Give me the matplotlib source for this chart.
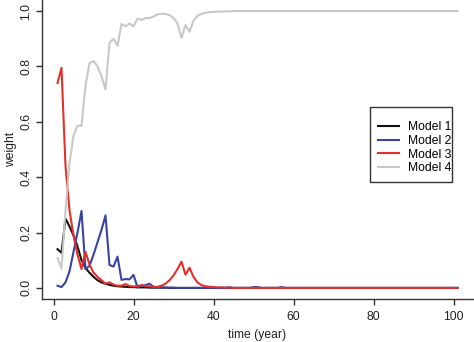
import numpy as np
import matplotlib
matplotlib.use("Agg")
import matplotlib.pyplot as plt
from matplotlib.patches import Rectangle

# model weights over time
time = np.arange(1, 102)

model1 = [0.140, 0.127, 0.250, 0.222, 0.190, 0.150, 0.100, 0.072, 0.055, 0.040,
          0.028, 0.020, 0.015, 0.011, 0.008, 0.006, 0.005, 0.004, 0.003, 0.003,
          0.002, 0.002, 0.002, 0.001, 0.001, 0.001, 0.001, 0.001, 0.000, 0.000,
          0.000, 0.000, 0.000, 0.000, 0.000, 0.000, 0.000, 0.000, 0.000, 0.000,
          0.000, 0.000, 0.000, 0.000, 0.000, 0.000, 0.000, 0.000, 0.000, 0.000,
          0.000, 0.000, 0.000, 0.000, 0.000, 0.000, 0.000, 0.000, 0.000, 0.000,
          0.000, 0.000, 0.000, 0.000, 0.000, 0.000, 0.000, 0.000, 0.000, 0.000,
          0.000, 0.000, 0.000, 0.000, 0.000, 0.000, 0.000, 0.000, 0.000, 0.000,
          0.000, 0.000, 0.000, 0.000, 0.000, 0.000, 0.000, 0.000, 0.000, 0.000,
          0.000, 0.000, 0.000, 0.000, 0.000, 0.000, 0.000, 0.000, 0.000, 0.000,
          0.000]

model2 = [0.008, 0.003, 0.020, 0.060, 0.130, 0.200, 0.278, 0.068, 0.080, 0.120,
          0.165, 0.210, 0.262, 0.083, 0.077, 0.113, 0.029, 0.032, 0.031, 0.047,
          0.003, 0.008, 0.010, 0.015, 0.004, 0.002, 0.002, 0.001, 0.001, 0.001,
          0.000, 0.000, 0.000, 0.000, 0.000, 0.000, 0.000, 0.000, 0.000, 0.000,
          0.000, 0.000, 0.000, 0.002, 0.000, 0.000, 0.000, 0.000, 0.000, 0.003,
          0.003, 0.000, 0.000, 0.000, 0.000, 0.000, 0.003, 0.000, 0.000, 0.000,
          0.000, 0.000, 0.000, 0.000, 0.000, 0.000, 0.000, 0.000, 0.000, 0.000,
          0.000, 0.000, 0.000, 0.000, 0.000, 0.000, 0.000, 0.000, 0.000, 0.000,
          0.000, 0.000, 0.000, 0.000, 0.000, 0.000, 0.000, 0.000, 0.000, 0.000,
          0.000, 0.000, 0.000, 0.000, 0.000, 0.000, 0.000, 0.000, 0.000, 0.000,
          0.000]

model3 = [0.740, 0.795, 0.440, 0.280, 0.190, 0.120, 0.068, 0.130, 0.085, 0.055,
          0.040, 0.028, 0.015, 0.020, 0.012, 0.008, 0.008, 0.014, 0.007, 0.005,
          0.007, 0.010, 0.007, 0.005, 0.004, 0.004, 0.008, 0.015, 0.028, 0.045,
          0.068, 0.095, 0.048, 0.073, 0.040, 0.020, 0.010, 0.006, 0.004, 0.003,
          0.002, 0.002, 0.001, 0.001, 0.000, 0.000, 0.000, 0.000, 0.000, 0.000,
          0.000, 0.000, 0.000, 0.000, 0.000, 0.000, 0.000, 0.000, 0.000, 0.000,
          0.000, 0.000, 0.000, 0.000, 0.000, 0.000, 0.000, 0.000, 0.000, 0.000,
          0.000, 0.000, 0.000, 0.000, 0.000, 0.000, 0.000, 0.000, 0.000, 0.000,
          0.000, 0.000, 0.000, 0.000, 0.000, 0.000, 0.000, 0.000, 0.000, 0.000,
          0.000, 0.000, 0.000, 0.000, 0.000, 0.000, 0.000, 0.000, 0.000, 0.000,
          0.000]

model4 = [0.108, 0.070, 0.280, 0.450, 0.550, 0.586, 0.586, 0.730, 0.812, 0.820,
          0.800, 0.765, 0.717, 0.886, 0.900, 0.875, 0.953, 0.945, 0.955, 0.945,
          0.973, 0.968, 0.975, 0.975, 0.980, 0.988, 0.990, 0.990, 0.985, 0.975,
          0.955, 0.903, 0.950, 0.925, 0.965, 0.983, 0.990, 0.994, 0.996, 0.997,
          0.998, 0.998, 0.999, 0.999, 1.000, 1.000, 1.000, 1.000, 1.000, 1.000,
          1.000, 1.000, 1.000, 1.000, 1.000, 1.000, 1.000, 1.000, 1.000, 1.000,
          1.000, 1.000, 1.000, 1.000, 1.000, 1.000, 1.000, 1.000, 1.000, 1.000,
          1.000, 1.000, 1.000, 1.000, 1.000, 1.000, 1.000, 1.000, 1.000, 1.000,
          1.000, 1.000, 1.000, 1.000, 1.000, 1.000, 1.000, 1.000, 1.000, 1.000,
          1.000, 1.000, 1.000, 1.000, 1.000, 1.000, 1.000, 1.000, 1.000, 1.000,
          1.000]

labels = ["Model 1", "Model 2", "Model 3", "Model 4"]
colors = ["#111111", "#3a43a3", "#e3302a", "#c8c8c8"]

plt.rcParams['font.family'] = ['Liberation Sans', 'DejaVu Sans']

fig = plt.figure(figsize=(4.74, 3.42), dpi=100)
ax = fig.add_axes([41.5 / 474, 43 / 342, 432 / 474, 299 / 342])

for y, c, lab in zip([model1, model2, model3, model4], colors, labels):
    ax.plot(time, y, color=c, lw=1.5, label=lab)

# R style axes
ax.set_xlim(-3, 105)
ax.set_ylim(-0.04, 1.04)
ax.set_xticks([0, 20, 40, 60, 80, 100])
ax.set_yticks([0.0, 0.2, 0.4, 0.6, 0.8, 1.0])
ax.set_yticklabels(["0.0", "0.2", "0.4", "0.6", "0.8", "1.0"], rotation=90, va='center')
ax.spines['top'].set_visible(False)
ax.spines['right'].set_visible(False)
for s in ['left', 'bottom']:
    ax.spines[s].set_color('#333333')
    ax.spines[s].set_linewidth(1.0)
ax.tick_params(axis='both', direction='out', length=4.3, width=1.0, color='#333333',
               labelsize=8.7, labelcolor='#222222')
ax.tick_params(axis='x', pad=4.5)
ax.tick_params(axis='y', pad=2.5)

ax.set_xlabel('time (year)', fontsize=8.7, color='#222222', labelpad=4)
ax.set_ylabel('weight', fontsize=8.7, color='#222222', labelpad=2.5)

# legend entries without frame, box drawn separately (R style, tight on the right)
leg = ax.legend(loc='upper left', bbox_to_anchor=(0.779, 0.594), borderaxespad=0,
                borderpad=0, fontsize=8.7, handlelength=1.7, handletextpad=0.75,
                labelspacing=0.13, frameon=False)
ax.add_patch(Rectangle((0.760, 0.391), 0.190, 0.251, transform=ax.transAxes,
                       fill=False, edgecolor='#333333', lw=1.0, zorder=5))

plt.savefig('out.png', dpi=100)
